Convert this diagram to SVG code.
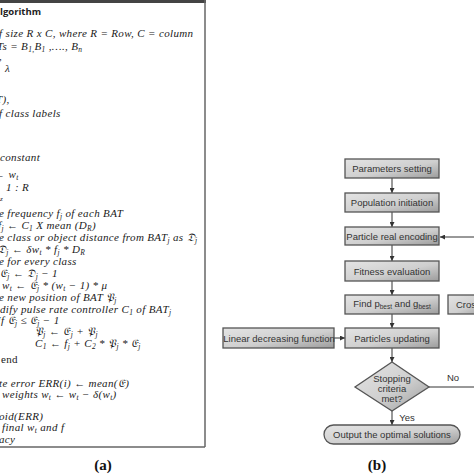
<svg xmlns="http://www.w3.org/2000/svg" width="474" height="474" viewBox="0 0 474 474">
<defs>
<linearGradient id="g" x1="0" y1="0" x2="1" y2="1">
<stop offset="0" stop-color="#e4e4e4"/>
<stop offset="0.55" stop-color="#cfcfcf"/>
<stop offset="1" stop-color="#9c9c9c"/>
</linearGradient>
<marker id="ah" viewBox="0 0 10 10" refX="10" refY="5" markerWidth="5" markerHeight="5" orient="auto" markerUnits="userSpaceOnUse">
<path d="M0,0 L10,5 L0,10 z" fill="#333"/>
</marker>
<style>
.alg{font-family:"Liberation Serif","DejaVu Serif",serif;font-style:italic;font-size:11px;letter-spacing:0.35px;fill:#1a1a1a}
.box{fill:url(#g);stroke:#555;stroke-width:1.3}
.lbl{font-family:"Liberation Sans",Arial,sans-serif;font-size:9.5px;fill:#333;text-anchor:middle}
.con{stroke:#333;stroke-width:1;fill:none}
.cap{font-family:"Liberation Serif",serif;font-weight:bold;font-size:15px;fill:#111;text-anchor:middle}
.sub{font-size:7.5px}
.bs{font-size:6.5px}
</style>
</defs>
<rect width="474" height="474" fill="#fff"/>

<g id="algorithm">
<line x1="0" y1="1.5" x2="206" y2="1.5" stroke="#444" stroke-width="3"/>
<line x1="205" y1="0" x2="205" y2="447" stroke="#666" stroke-width="1.5"/>
<line x1="0" y1="447" x2="205" y2="447" stroke="#666" stroke-width="1.5"/>
<text x="0" y="15" font-family="'Open Sans','Liberation Sans',sans-serif" font-weight="bold" font-size="9.5" fill="#222">lgorithm</text>
<text class="alg" x="-1" y="37">f size R x C, where R = Row, C = column</text>
<text class="alg" x="-3" y="50">Ts = B<tspan class="sub" dy="1.5">1,</tspan><tspan dy="-1.5">B</tspan><tspan class="sub" dy="1.5">1</tspan><tspan dy="-1.5"> ,…., B</tspan><tspan class="sub" dy="1.5">n</tspan></text>
<text class="alg" x="-1" y="60">,</text>
<text class="alg" x="5" y="72">λ</text>
<text class="alg" x="-4" y="103">T),</text>
<text class="alg" x="-1" y="117">f class labels</text>
<text class="alg" x="0" y="161">constant</text>
<text class="alg" x="-6" y="178">← w<tspan class="sub" dy="1.5">t</tspan></text>
<text class="alg" x="6" y="191">1 : R</text>
<text class="alg" x="0" y="201" style="font-size:7px">z</text>
<text class="alg" x="-1" y="217">e frequency f<tspan class="sub" dy="1.5">j</tspan><tspan dy="-1.5"> of each BAT</tspan></text>
<text class="alg" x="-2" y="229">f<tspan class="sub" dy="1.5">j</tspan><tspan dy="-1.5"> ← C</tspan><tspan class="sub" dy="1.5">1</tspan><tspan dy="-1.5"> X mean (D</tspan><tspan class="sub" dy="1.5">R</tspan><tspan dy="-1.5">)</tspan></text>
<text class="alg" x="-1" y="241">e class or object distance from BAT<tspan class="sub" dy="1.5">j</tspan><tspan dy="-1.5"> as 𝔇</tspan><tspan class="sub" dy="1.5">j</tspan></text>
<text class="alg" x="-2" y="253">𝔇<tspan class="sub" dy="1.5">j</tspan><tspan dy="-1.5"> ← δw</tspan><tspan class="sub" dy="1.5">t</tspan><tspan dy="-1.5"> * f</tspan><tspan class="sub" dy="1.5">j</tspan><tspan dy="-1.5"> * D</tspan><tspan class="sub" dy="1.5">R</tspan></text>
<text class="alg" x="-1" y="265">e for every class</text>
<text class="alg" x="0" y="277">𝔈<tspan class="sub" dy="1.5">j</tspan><tspan dy="-1.5"> ← 𝔇</tspan><tspan class="sub" dy="1.5">j</tspan><tspan dy="-1.5"> − 1</tspan></text>
<text class="alg" x="2" y="289">w<tspan class="sub" dy="1.5">t</tspan><tspan dy="-1.5"> ← 𝔈</tspan><tspan class="sub" dy="1.5">j</tspan><tspan dy="-1.5"> * (w</tspan><tspan class="sub" dy="1.5">t</tspan><tspan dy="-1.5"> − 1) * μ</tspan></text>
<text class="alg" x="-1" y="301">e new position of BAT 𝔓<tspan class="sub" dy="1.5">j</tspan></text>
<text class="alg" x="0" y="313">dify pulse rate controller C<tspan class="sub" dy="1.5">1</tspan><tspan dy="-1.5"> of BAT</tspan><tspan class="sub" dy="1.5">j</tspan></text>
<text class="alg" x="-3" y="324">If  𝔈<tspan class="sub" dy="1.5">j</tspan><tspan dy="-1.5"> ≤ 𝔈</tspan><tspan class="sub" dy="1.5">j</tspan><tspan dy="-1.5"> − 1</tspan></text>
<text class="alg" x="35" y="335">𝔓<tspan class="sub" dy="1.5">j</tspan><tspan dy="-1.5"> ← 𝔈</tspan><tspan class="sub" dy="1.5">j</tspan><tspan dy="-1.5"> + 𝔓</tspan><tspan class="sub" dy="1.5">j</tspan></text>
<text class="alg" x="35" y="347">C<tspan class="sub" dy="1.5">1</tspan><tspan dy="-1.5"> ← f</tspan><tspan class="sub" dy="1.5">j</tspan><tspan dy="-1.5"> + C</tspan><tspan class="sub" dy="1.5">2</tspan><tspan dy="-1.5"> * 𝔓</tspan><tspan class="sub" dy="1.5">j</tspan><tspan dy="-1.5"> * 𝔈</tspan><tspan class="sub" dy="1.5">j</tspan></text>
<text class="alg" x="1" y="363" style="font-style:normal">end</text>
<text class="alg" x="-1" y="387">te error ERR(i) ← mean(𝔈)</text>
<text class="alg" x="2" y="398">weights  w<tspan class="sub" dy="1.5">t</tspan><tspan dy="-1.5"> ← w</tspan><tspan class="sub" dy="1.5">t</tspan><tspan dy="-1.5"> − δ(w</tspan><tspan class="sub" dy="1.5">t</tspan><tspan dy="-1.5">)</tspan></text>
<text class="alg" x="-1" y="420">oid(ERR)</text>
<text class="alg" x="2" y="431">final w<tspan class="sub" dy="1.5">t</tspan><tspan dy="-1.5"> and f</tspan></text>
<text class="alg" x="-1" y="443">acy</text>
<text class="cap" x="103" y="470">(a)</text>
</g>

<g id="connectors">
<line class="con" x1="392" y1="178" x2="392" y2="193" marker-end="url(#ah)"/>
<line class="con" x1="392" y1="212" x2="392" y2="227" marker-end="url(#ah)"/>
<line class="con" x1="392" y1="245" x2="392" y2="261" marker-end="url(#ah)"/>
<line class="con" x1="392" y1="281" x2="392" y2="295" marker-end="url(#ah)"/>
<line class="con" x1="392" y1="314" x2="392" y2="328" marker-end="url(#ah)"/>
<line class="con" x1="392" y1="348" x2="392" y2="362" marker-end="url(#ah)"/>
<line class="con" x1="392" y1="411" x2="392" y2="425" marker-end="url(#ah)"/>
<line class="con" x1="334" y1="338" x2="345" y2="338" marker-end="url(#ah)"/>
<line class="con" x1="474" y1="237" x2="440" y2="237" marker-end="url(#ah)"/>
<line class="con" x1="429" y1="387" x2="474" y2="387"/>
<text class="lbl" x="453" y="381">No</text>
<text class="lbl" x="407" y="421">Yes</text>
</g>

<g id="n-params"><rect class="box" x="345" y="159" width="94" height="19"/><text class="lbl" x="392" y="172">Parameters setting</text></g>
<g id="n-pop"><rect class="box" x="345" y="193" width="94" height="19"/><text class="lbl" x="392" y="206">Population initiation</text></g>
<g id="n-enc"><rect class="box" x="345" y="227" width="94" height="18"/><text class="lbl" x="392" y="240">Particle real encoding</text></g>
<g id="n-fit"><rect class="box" x="345" y="261" width="94" height="20"/><text class="lbl" x="392" y="274.5">Fitness evaluation</text></g>
<g id="n-find"><rect class="box" x="345" y="295" width="94" height="19"/><text class="lbl" x="392" y="307">Find p<tspan class="bs" dy="2">best</tspan><tspan dy="-2"> and g</tspan><tspan class="bs" dy="2">best</tspan></text></g>
<g id="n-cross"><rect class="box" x="448" y="295" width="40" height="19"/><text class="lbl" x="456" y="308" style="text-anchor:start">Crossover</text></g>
<g id="n-upd"><rect class="box" x="345" y="328" width="94" height="20"/><text class="lbl" x="392" y="341.5">Particles updating</text></g>
<g id="n-lin"><rect class="box" x="223" y="328" width="111" height="20"/><text class="lbl" x="279" y="341.5">Linear decreasing function</text></g>
<g id="n-stop"><polygon class="box" points="392,362 429,387 392,411 355,387"/>
<text class="lbl" x="392" y="382">Stopping</text><text class="lbl" x="392" y="392">criteria</text><text class="lbl" x="392" y="402">met?</text></g>
<g id="n-out"><rect class="box" x="324" y="425" width="136" height="19" rx="9.5"/><text class="lbl" x="392" y="438">Output the optimal solutions</text></g>
<text class="cap" x="377" y="470">(b)</text>
</svg>
